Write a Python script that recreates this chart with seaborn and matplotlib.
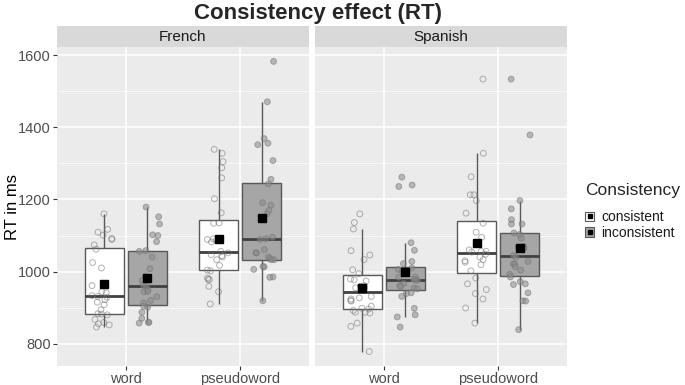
import numpy as np
import pandas as pd
import seaborn as sns
import matplotlib
matplotlib.use('Agg')
import matplotlib.pyplot as plt
from matplotlib.patches import Patch
from matplotlib.lines import Line2D
from matplotlib.legend_handler import HandlerTuple

sns.set_theme(style="whitegrid")
plt.rcParams['font.family'] = ['Liberation Sans', 'DejaVu Sans']

# RT per participant
fr_word_con = [1160, 1117, 1109, 1101, 1092, 1089, 1074, 1062, 1025, 1010, 961, 944, 941, 931,
               929, 922, 933, 908, 915, 894, 883, 880, 882, 867, 859, 852, 855, 846]
fr_word_inc = [1179, 1152, 1132, 1102, 1100, 1083, 1058, 1056, 1040, 1008, 986, 975, 961, 950,
               962, 944, 945, 930, 920, 913, 904, 901, 887, 870, 859, 857, 859]
fr_pseudo_con = [1339, 1328, 1305, 1288, 1260, 1202, 1163, 1134, 1135, 1091, 1086, 1089, 1082, 1052,
                 1047, 1044, 1056, 1041, 1033, 1017, 1004, 982, 1002, 978, 978, 959, 944, 910]
fr_pseudo_inc = [1583, 1471, 1369, 1356, 1352, 1308, 1256, 1243, 1191, 1184, 1169, 1160, 1095, 1091,
                 1089, 1061, 1052, 1052, 1041, 1036, 1033, 1033, 1013, 1006, 1014, 985, 984, 919]
es_word_con = [1160, 1136, 1118, 1058, 1046, 1033, 1005, 994, 979, 977, 974, 961, 959, 955, 954,
               931, 927, 924, 920, 918, 904, 898, 896, 892, 887, 887, 885, 857, 848, 778]
es_word_inc = [1262, 1240, 1236, 1080, 1059, 1028, 1022, 1010, 1006, 1001, 996, 985, 984, 976,
               979, 976, 967, 961, 959, 954, 952, 941, 939, 931, 898, 880, 874, 846]
es_pseudo_con = [1534, 1328, 1263, 1213, 1213, 1197, 1162, 1134, 1109, 1095, 1060, 1056, 1056, 1054,
                 1048, 1040, 1033, 1030, 1026, 1019, 1002, 982, 966, 950, 939, 924, 899, 857]
es_pseudo_inc = [1534, 1379, 1197, 1174, 1144, 1132, 1132, 1107, 1103, 1093, 1070, 1068, 1068, 1064,
                 1044, 1040, 1028, 1021, 1021, 1013, 1004, 992, 985, 972, 964, 966, 941, 919, 918, 839]

languages = ['French', 'Spanish']
lexicality = ['word', 'pseudoword']
consistency = ['consistent', 'inconsistent']

groups = {
    ('French', 'word', 'consistent'): fr_word_con,
    ('French', 'word', 'inconsistent'): fr_word_inc,
    ('French', 'pseudoword', 'consistent'): fr_pseudo_con,
    ('French', 'pseudoword', 'inconsistent'): fr_pseudo_inc,
    ('Spanish', 'word', 'consistent'): es_word_con,
    ('Spanish', 'word', 'inconsistent'): es_word_inc,
    ('Spanish', 'pseudoword', 'consistent'): es_pseudo_con,
    ('Spanish', 'pseudoword', 'inconsistent'): es_pseudo_inc,
}
rows = []
for (lang, lex, cons), vals in groups.items():
    for v in vals:
        rows.append({'Language': lang, 'Lexicality': lex, 'Consistency': cons, 'RT': v})
df = pd.DataFrame(rows)

box_pal = {'consistent': 'white', 'inconsistent': '#A6A6A6'}
pt_pal = {'consistent': (1, 1, 1, 0), 'inconsistent': (0.55, 0.55, 0.55, 0.55)}
edge_col = '#595959'
text_col = '#4D4D4D'

np.random.seed(3)
fig = plt.figure(figsize=(6.85, 3.85), dpi=100)
panel_left = [57 / 685, 315 / 685]
panel_w = 252 / 685
bottom = 1 - 366 / 385
height = (366 - 47) / 385

for i, lang in enumerate(languages):
    ax = fig.add_axes([panel_left[i], bottom, panel_w, height])
    sub = df[df['Language'] == lang]
    ax.set_facecolor('#EBEBEB')
    sns.boxplot(data=sub, x='Lexicality', y='RT', hue='Consistency', order=lexicality,
                hue_order=consistency, palette=box_pal, width=0.75, gap=0.1,
                showfliers=False, showcaps=False, showmeans=True,
                meanprops=dict(marker='s', markerfacecolor='black', markeredgecolor='black',
                               markersize=6, zorder=5),
                medianprops=dict(color='#404040', linewidth=2),
                linecolor=edge_col, linewidth=1.0, legend=False, ax=ax)
    sns.stripplot(data=sub, x='Lexicality', y='RT', hue='Consistency', order=lexicality,
                  hue_order=consistency, palette=pt_pal, dodge=True, jitter=0.2, size=4.2,
                  edgecolor=(0.45, 0.45, 0.45, 0.55), linewidth=0.7, legend=False, ax=ax)

    ax.set_xlim(-0.6, 1.6)
    ax.set_ylim(738, 1623)
    ax.set_yticks([800, 1000, 1200, 1400, 1600])
    ax.set_yticks([900, 1100, 1300, 1500], minor=True)
    ax.grid(which='major', color='white', linewidth=1.1)
    ax.grid(which='minor', axis='y', color='white', linewidth=0.5)
    ax.set_axisbelow(True)
    for s in ax.spines.values():
        s.set_visible(False)
    ax.tick_params(axis='both', which='major', length=3, width=0.8, color='#333333',
                   labelsize=10.5, labelcolor=text_col, pad=1.5, left=True, bottom=True)
    ax.tick_params(axis='y', which='minor', length=0)
    ax.set_xlabel('')
    ax.set_ylabel('')
    if i == 1:
        ax.tick_params(axis='y', which='major', left=False, labelleft=False)
    else:
        ax.set_ylabel('RT in ms', fontsize=12, color='black')
        ax.yaxis.set_label_coords(-37 / 252, 0.5)

    strip = fig.add_axes([panel_left[i], 1 - 47 / 385, panel_w, 21 / 385])
    strip.set_facecolor('#D9D9D9')
    strip.set_xticks([])
    strip.set_yticks([])
    for s in strip.spines.values():
        s.set_visible(False)
    strip.text(0.5, 0.48, lang, ha='center', va='center', fontsize=11, color='#1A1A1A',
               transform=strip.transAxes)

fig.text(318 / 685, 1 - 13 / 385, 'Consistency effect (RT)', ha='center', va='center',
         fontsize=16, fontweight='bold')

handles = []
for c in consistency:
    handles.append((Patch(facecolor=box_pal[c], edgecolor=edge_col, linewidth=0.8),
                    Line2D([], [], marker='s', color='black', linestyle='', markersize=3.5)))
leg = fig.legend(handles, consistency, title='Consistency', loc='upper left',
                 bbox_to_anchor=(575 / 685, 1 - 173 / 385), frameon=False,
                 handler_map={tuple: HandlerTuple(ndivide=1)}, fontsize=10,
                 title_fontsize=12.5, handlelength=0.7, handleheight=0.7,
                 handletextpad=0.5, labelspacing=0.1, borderpad=0.2)
leg._legend_box.align = 'left'
leg._legend_box.sep = 9
for t in leg.get_texts():
    t.set_color('#1A1A1A')

fig.savefig('out.png', dpi=100)
